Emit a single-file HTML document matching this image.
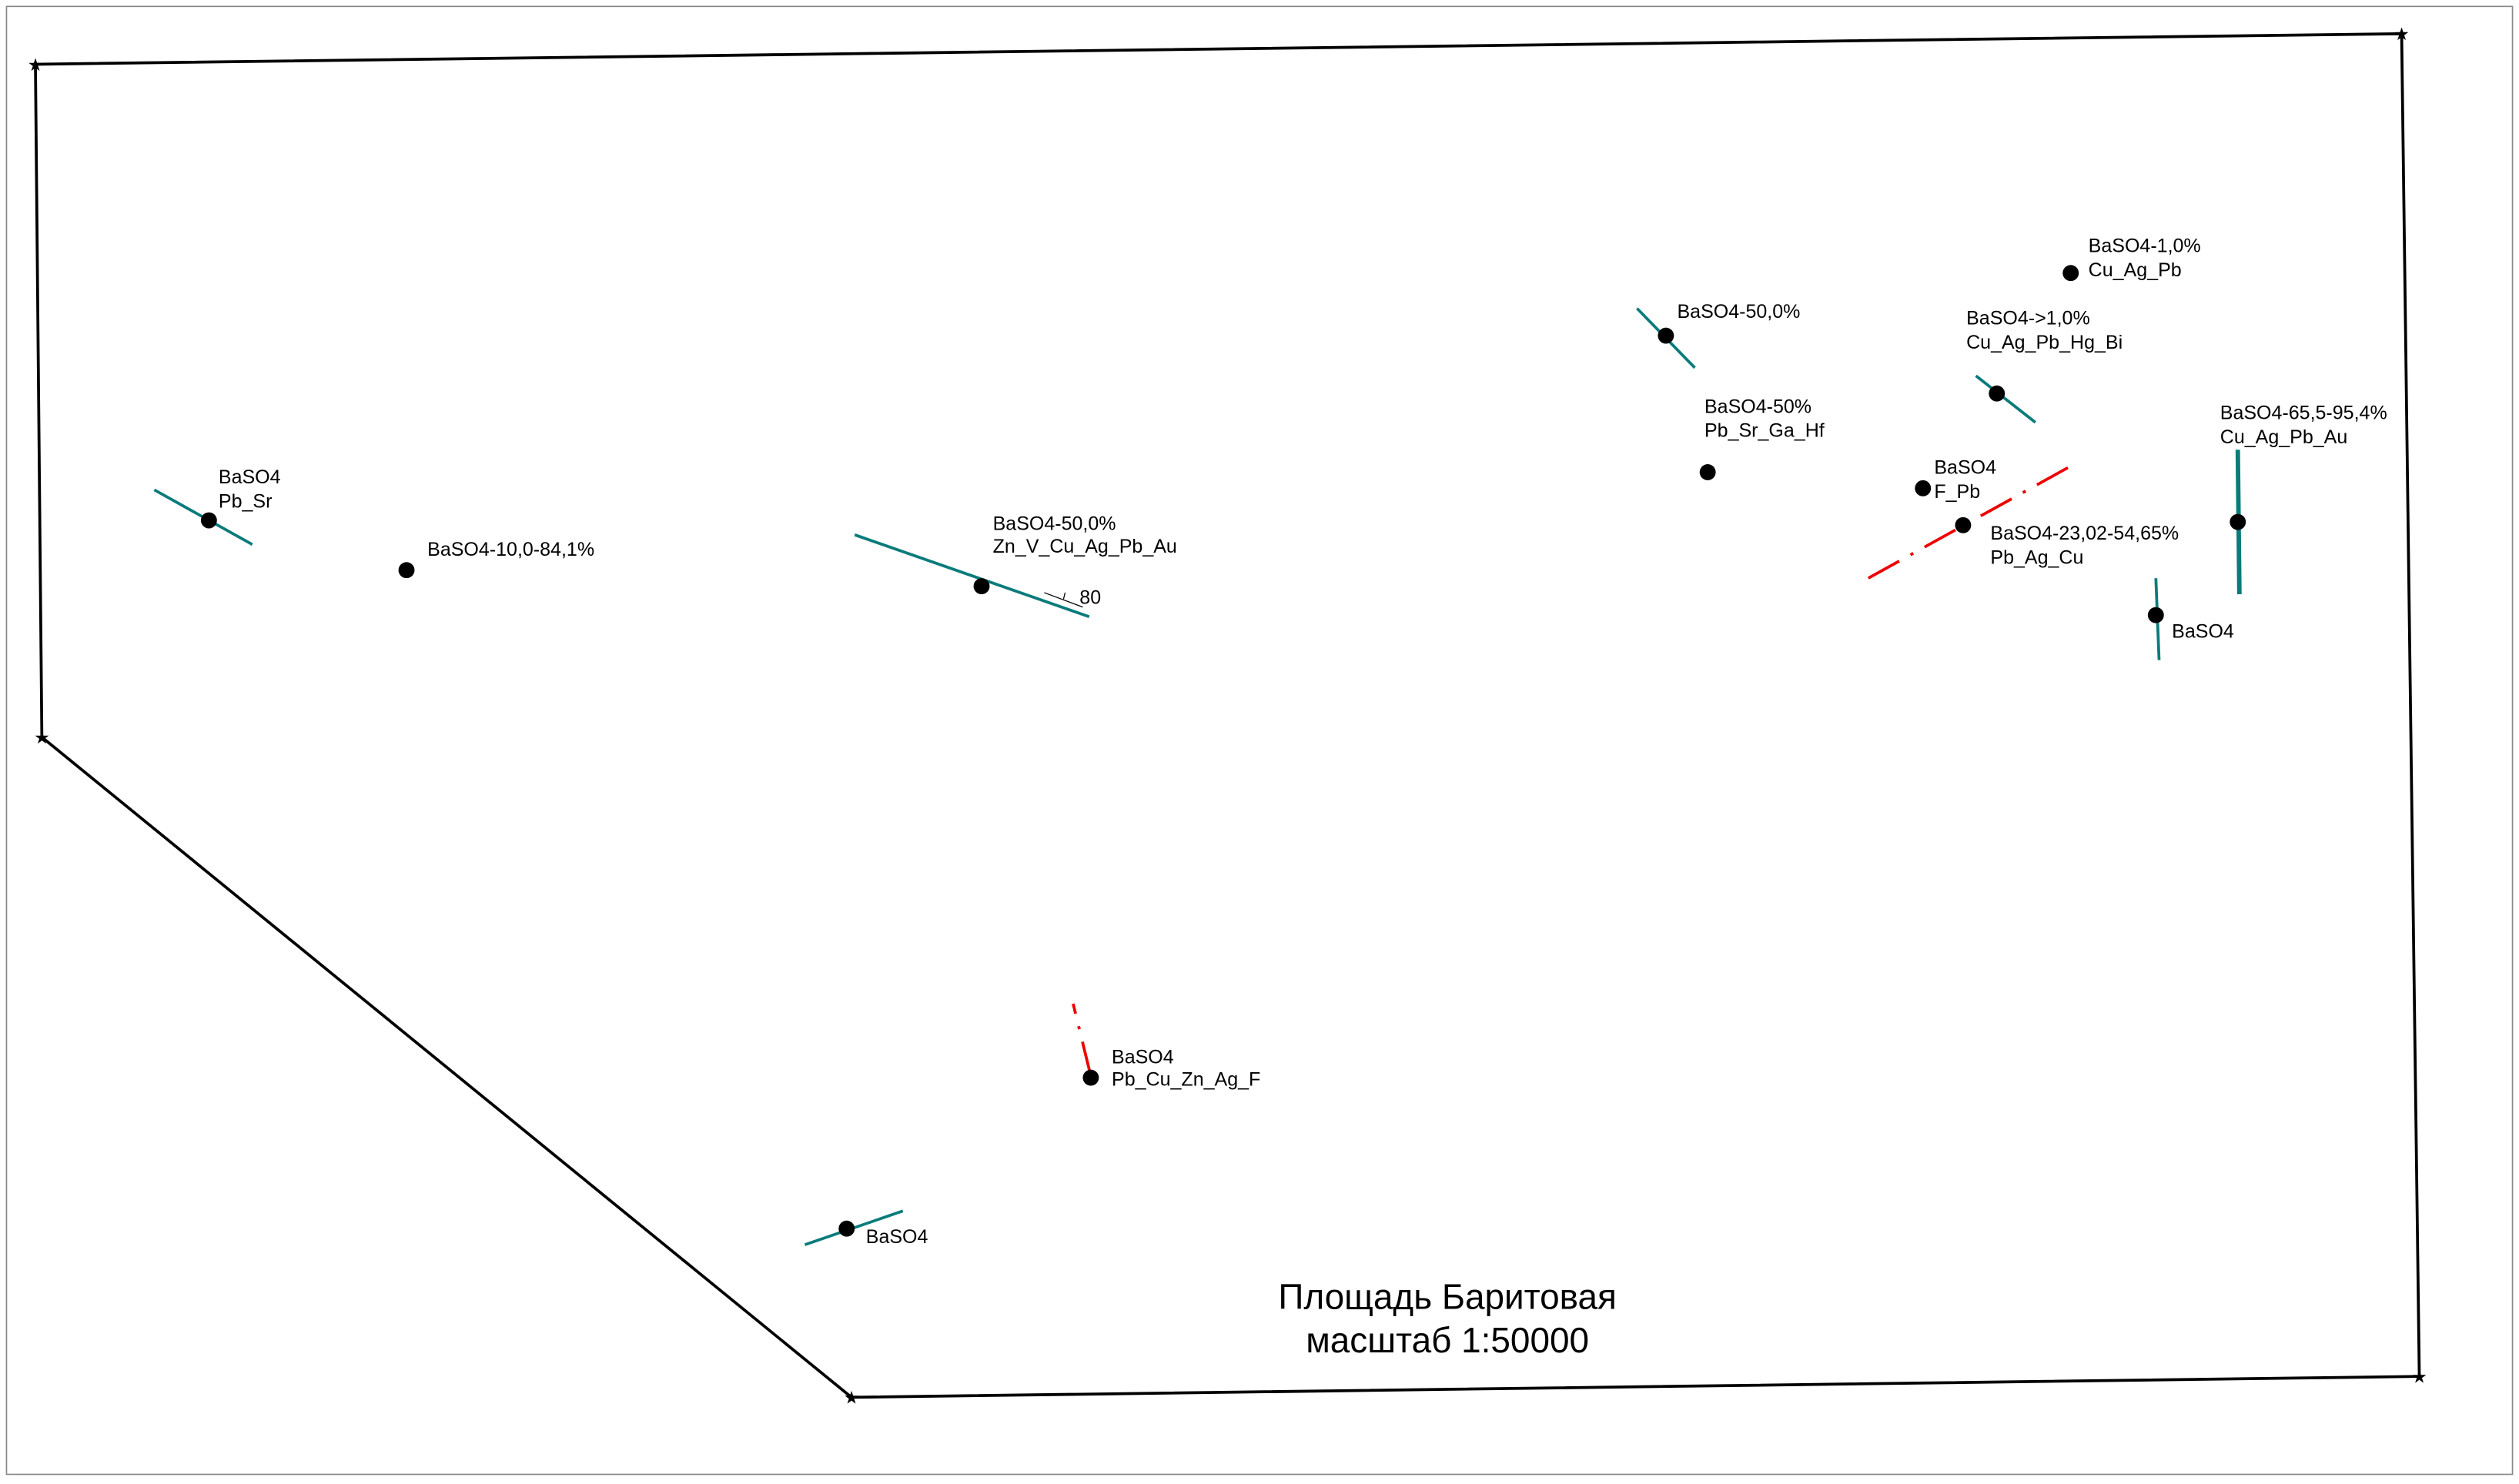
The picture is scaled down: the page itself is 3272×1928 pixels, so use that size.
<!DOCTYPE html>
<html><head><meta charset="utf-8"><style>
html,body{margin:0;padding:0;background:#fff;}
svg{display:block;}
text{font-family:"Liberation Sans",sans-serif;fill:#000;}
</style></head><body>
<svg width="3272" height="1928" viewBox="0 0 1568 924" xmlns="http://www.w3.org/2000/svg">
<rect x="0" y="0" width="1568" height="924" fill="#fff"/>
<rect x="4" y="4" width="1560" height="914" fill="none" stroke="#888" stroke-width="0.8"/>
<polygon points="22,40 1495,21 1506,857 530,870 26,459" fill="none" stroke="#000" stroke-width="1.8"/>
<g fill="#000" font-size="11">
<text x="22" y="44" text-anchor="middle">★</text>
<text x="1495" y="25" text-anchor="middle">★</text>
<text x="1506" y="861" text-anchor="middle">★</text>
<text x="530" y="874" text-anchor="middle">★</text>
<text x="26" y="463" text-anchor="middle">★</text>
</g>
<g stroke="#0a7b7b" stroke-width="1.8" fill="none">
<line x1="96" y1="305" x2="157" y2="339"/>
<line x1="532" y1="333" x2="678" y2="384"/>
<line x1="1019" y1="192" x2="1055" y2="229"/>
<line x1="1230" y1="234" x2="1267" y2="263"/>
<line x1="1342" y1="360" x2="1344" y2="411"/>
<line x1="501" y1="775" x2="562" y2="754"/>
<line x1="1393" y1="280" x2="1394" y2="370" stroke-width="2.8"/>
</g>
<g stroke="#e00" stroke-width="1.8" fill="none" stroke-dasharray="22,8,2,8">
<line x1="1163" y1="360" x2="1293" y2="288"/>
<line x1="679" y1="670" x2="668" y2="625"/>
</g>
<g stroke="#000" stroke-width="0.6">
<line x1="650" y1="369" x2="674" y2="378"/>
<line x1="662" y1="373" x2="663" y2="369"/>
</g>
<g fill="#000">
<circle cx="130" cy="324" r="5"/>
<circle cx="253" cy="355" r="5"/>
<circle cx="611" cy="365" r="5"/>
<circle cx="1037" cy="209" r="5"/>
<circle cx="1063" cy="294" r="5"/>
<circle cx="1289" cy="170" r="5"/>
<circle cx="1243" cy="245" r="5"/>
<circle cx="1197" cy="304" r="5"/>
<circle cx="1222" cy="327" r="5"/>
<circle cx="1393" cy="325" r="5"/>
<circle cx="1342" cy="383" r="5"/>
<circle cx="679" cy="671" r="5"/>
<circle cx="527" cy="765" r="5"/>
</g>
<g font-size="12">
<text x="136" y="301">BaSO4</text><text x="136" y="316">Pb_Sr</text>
<text x="266" y="346">BaSO4-10,0-84,1%</text>
<text x="618" y="330">BaSO4-50,0%</text><text x="618" y="344">Zn_V_Cu_Ag_Pb_Au</text>
<text x="672" y="376">80</text>
<text x="1044" y="198">BaSO4-50,0%</text>
<text x="1061" y="257">BaSO4-50%</text><text x="1061" y="272">Pb_Sr_Ga_Hf</text>
<text x="1300" y="157">BaSO4-1,0%</text><text x="1300" y="172">Cu_Ag_Pb</text>
<text x="1224" y="202">BaSO4-&gt;1,0%</text><text x="1224" y="217">Cu_Ag_Pb_Hg_Bi</text>
<text x="1204" y="295">BaSO4</text><text x="1204" y="310">F_Pb</text>
<text x="1239" y="336">BaSO4-23,02-54,65%</text><text x="1239" y="351">Pb_Ag_Cu</text>
<text x="1382" y="261">BaSO4-65,5-95,4%</text><text x="1382" y="276">Cu_Ag_Pb_Au</text>
<text x="1352" y="397">BaSO4</text>
<text x="692" y="662">BaSO4</text><text x="692" y="676">Pb_Cu_Zn_Ag_F</text>
<text x="539" y="774">BaSO4</text>
</g>
<g font-size="22" text-anchor="middle">
<text x="901" y="815">Площадь Баритовая</text>
<text x="901" y="842">масштаб 1:50000</text>
</g>
</svg>
</body></html>
